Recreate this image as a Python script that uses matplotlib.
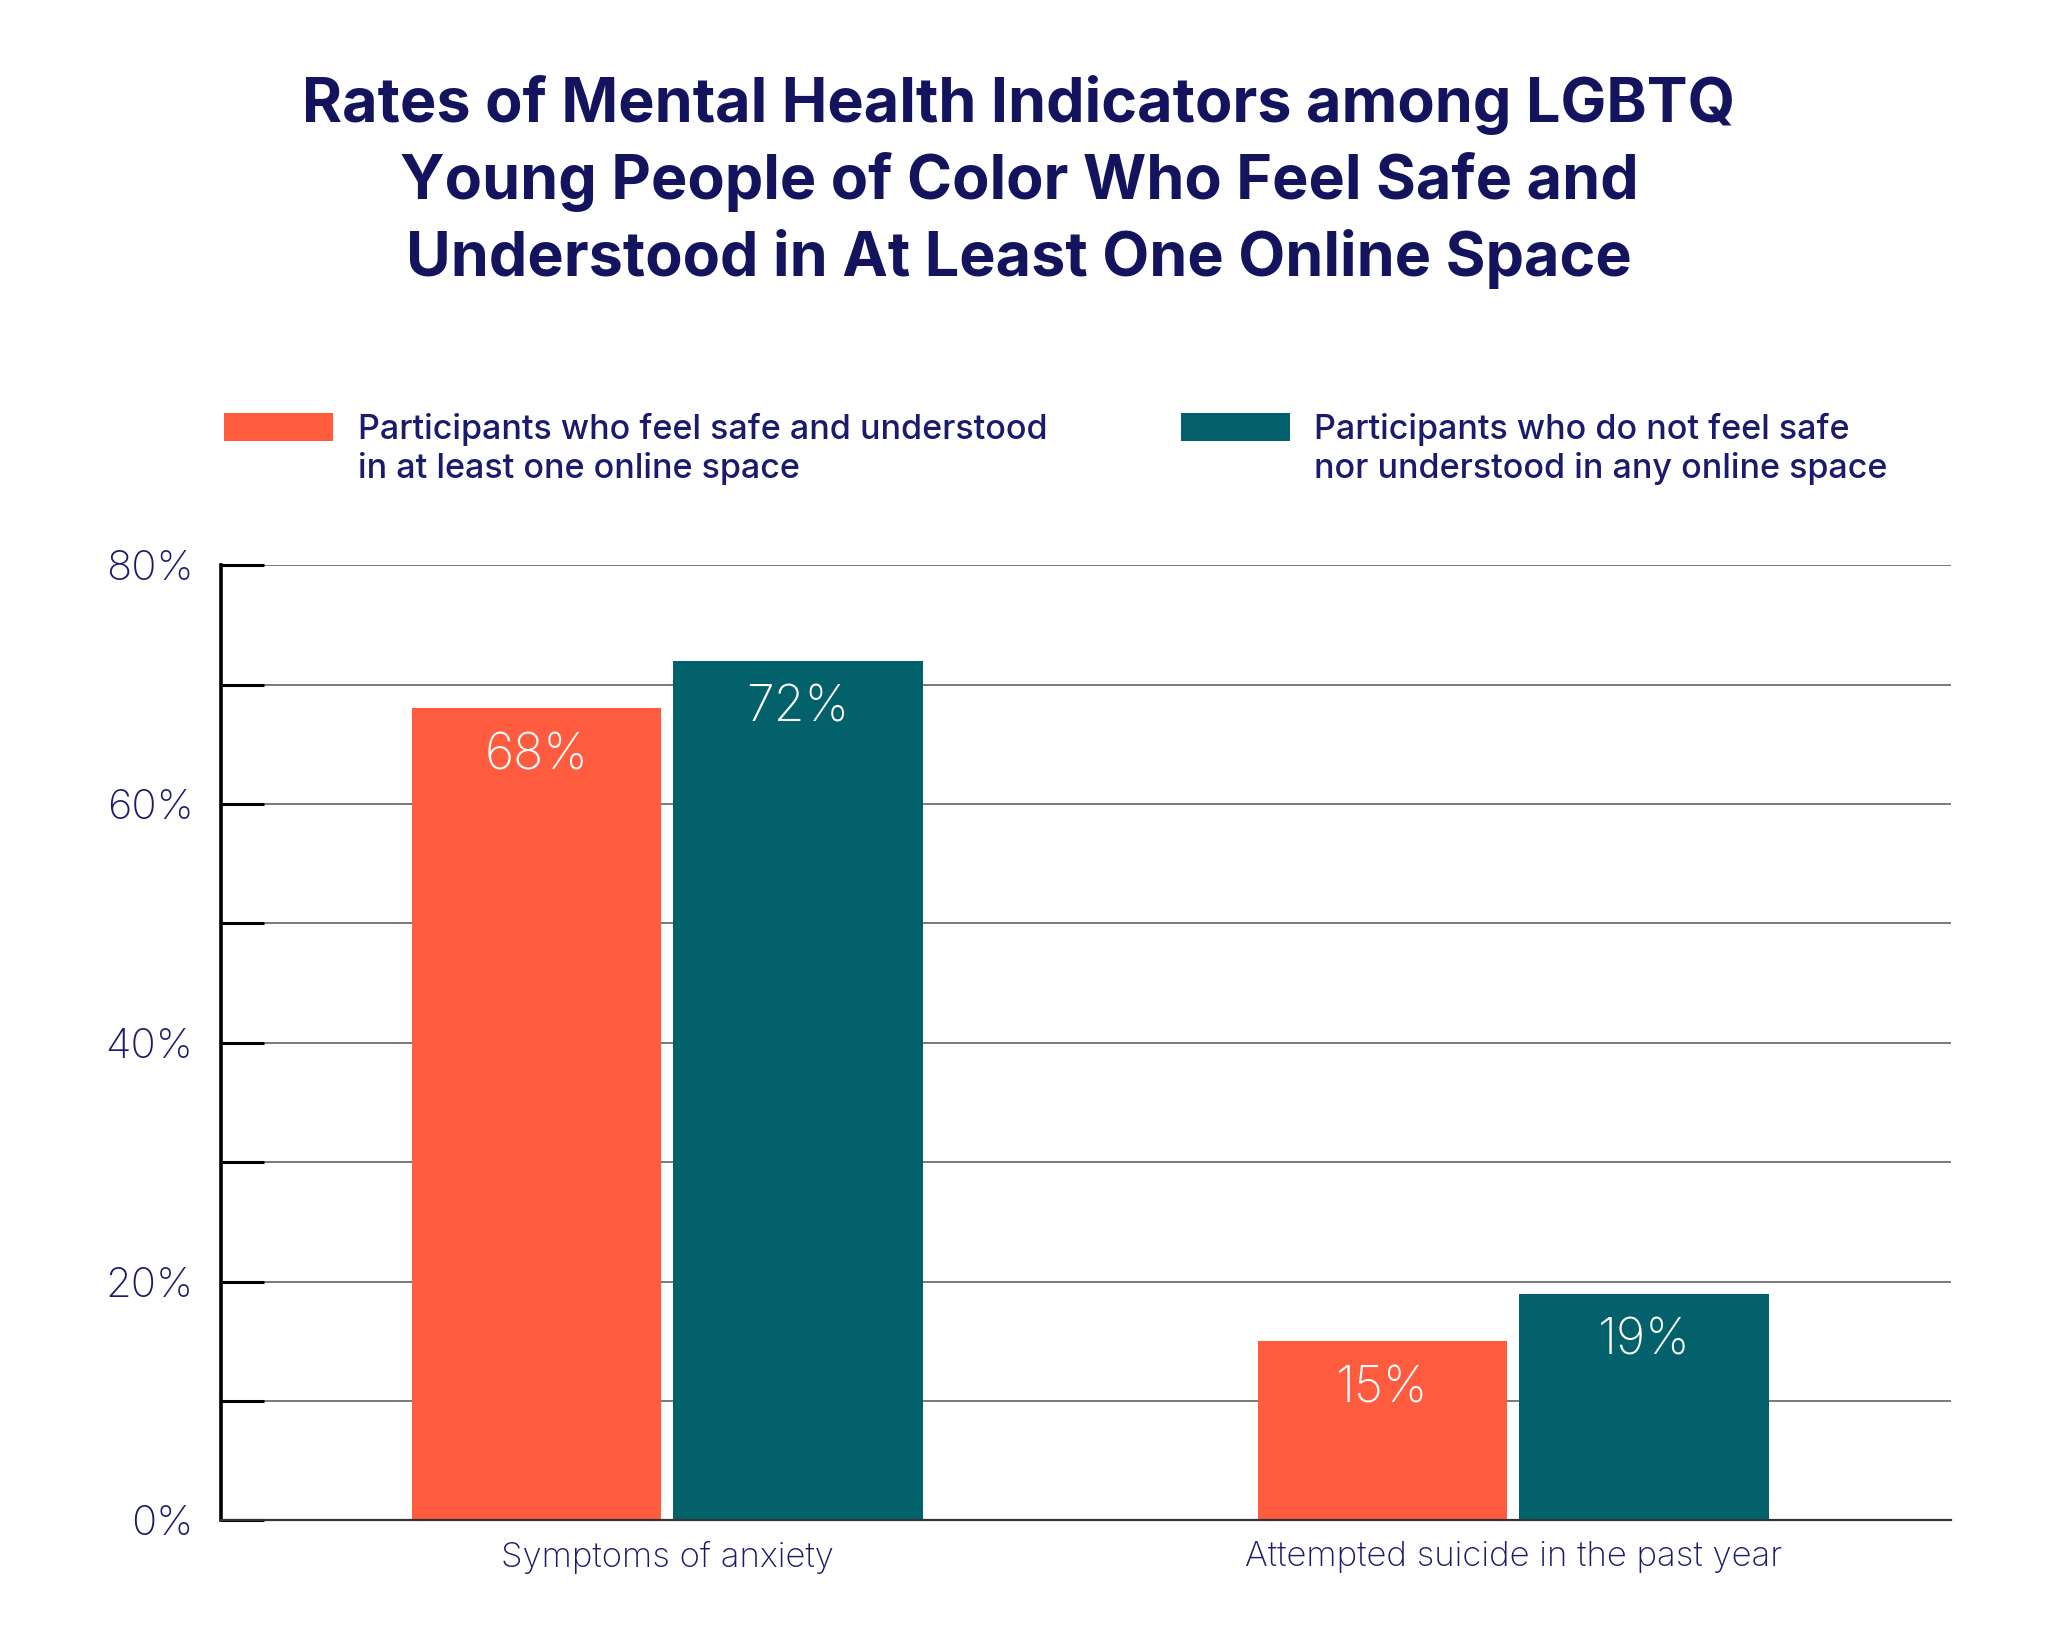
"""
Rates of mental health indicators among LGBTQ young people of color,
split by whether they feel safe and understood in at least one online space.
"""

import matplotlib
matplotlib.use("Agg")
import matplotlib.pyplot as plt
from matplotlib.patches import Rectangle
import numpy as np

# data
categories = ["Symptoms of anxiety", "Attempted suicide in the past year"]
safe_values = [68, 15]
unsafe_values = [72, 19]
series_labels = [
    "Participants who feel safe and understood\nin at least one online space",
    "Participants who do not feel safe\nnor understood in any online space",
]
y_ticks = [0, 20, 40, 60, 80]
y_minor = [10, 30, 50, 70]

title = ("Rates of Mental Health Indicators among LGBTQ\n"
         "Young People of Color Who Feel Safe and\n"
         "Understood in At Least One Online Space")

ORANGE = "#FF5B3F"
TEAL = "#02616A"
NAVY = "#1B1B6B"
TITLE_NAVY = "#14145E"
FONT = ["Inter", "DejaVu Sans"]

plt.rcParams["font.family"] = FONT

fig = plt.figure(figsize=(20.48, 16.5), dpi=100)
ax = fig.add_axes([0.108, 0.0785, 0.8445, 0.579])

x = np.arange(len(categories))
width = 0.295
gap = 0.014

bars_safe = ax.bar(x - width / 2 - gap / 2, safe_values, width, color=ORANGE, zorder=3)
bars_unsafe = ax.bar(x + width / 2 + gap / 2, unsafe_values, width, color=TEAL, zorder=3)

# value labels inside the top of each bar
for bars, vals in [(bars_safe, safe_values), (bars_unsafe, unsafe_values)]:
    for b, v in zip(bars, vals):
        ax.annotate(f"{v}%", (b.get_x() + b.get_width() / 2, v),
                    xytext=(0, -34), textcoords="offset points",
                    ha="center", va="center", color="white",
                    fontsize=36, fontweight="light", zorder=4)

ax.set_xlim(-0.527, 1.517)
ax.set_ylim(0, 80)

ax.set_yticks(y_ticks)
ax.set_yticks(y_minor, minor=True)
ax.set_yticklabels([f"{t}%" for t in y_ticks])
ax.tick_params(axis="y", which="both", direction="in", length=31, width=2.2,
               color="black", pad=20)
ax.tick_params(axis="y", labelsize=30, labelcolor=NAVY)
for lab in ax.get_yticklabels():
    lab.set_fontweight("light")

ax.set_xticks(x)
ax.set_xticklabels(categories)
ax.tick_params(axis="x", length=0, pad=15, labelsize=25, labelcolor=NAVY)
for lab in ax.get_xticklabels():
    lab.set_fontweight("light")

ax.grid(axis="y", which="both", color="#555555", linewidth=1.1, zorder=1)
ax.set_axisbelow(True)

for side in ["top", "right"]:
    ax.spines[side].set_visible(False)
ax.spines["left"].set_linewidth(2.6)
ax.spines["left"].set_color("black")
ax.spines["bottom"].set_linewidth(1.6)
ax.spines["bottom"].set_color("#333333")
ax.spines["bottom"].set_zorder(5)

# title
fig.text(0.4975, 0.8895, title, ha="center", va="center", multialignment="center",
         fontsize=44, fontweight="bold", color=TITLE_NAVY, linespacing=1.36)

# legend drawn by hand so the swatch sits beside the first line
legend_items = [(ORANGE, series_labels[0], 0.1094, 0.175),
                (TEAL, series_labels[1], 0.5767, 0.6416)]
for color, label, px, tx in legend_items:
    fig.add_artist(Rectangle((px, 0.7327), 0.0532, 0.0170, transform=fig.transFigure,
                             facecolor=color, edgecolor="none"))
    fig.text(tx, 0.7279, label, ha="left", va="center", fontsize=24.5,
             fontweight="medium", color=NAVY, linespacing=1.24)

fig.savefig("out.png", dpi=100)
